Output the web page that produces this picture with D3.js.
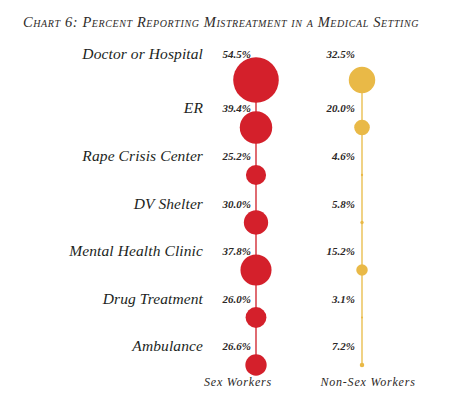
<!DOCTYPE html>
<html>
<head>
<meta charset="utf-8">
<script src="https://cdn.jsdelivr.net/npm/d3@7"></script>
<style>
  html, body { margin: 0; padding: 0; background: #fff; }
  svg { display: block; }
</style>
</head>
<body>
<div id="chart"></div>
<script>
// data
var settings = ['Doctor or Hospital', 'ER', 'Rape Crisis Center', 'DV Shelter',
                'Mental Health Clinic', 'Drug Treatment', 'Ambulance'];
var groups = ['Sex Workers', 'Non-Sex Workers'];
var sexWorkers = [54.5, 39.4, 25.2, 30.0, 37.8, 26.0, 26.6];
var nonSexWorkers = [32.5, 20.0, 4.6, 5.8, 15.2, 3.1, 7.2];
var colors = ['#d4202b', '#e9b947'];
var lineColors = ['#d8474f', '#edc766'];

var W = 474, H = 415;
var svg = d3.select('#chart').append('svg')
  .attr('width', W).attr('height', H);

var serif = '"Liberation Serif", "DejaVu Serif", serif';

// title, small caps italic
svg.append('text')
  .attr('x', 23).attr('y', 27)
  .attr('font-family', serif)
  .attr('font-style', 'italic')
  .attr('font-size', '14.5px')
  .attr('font-variant', 'small-caps')
  .attr('letter-spacing', '0.6px')
  .attr('fill', '#2e2a28')
  .text('Chart 6: Percent Reporting Mistreatment in a Medical Setting');

var x = d3.scalePoint().domain(groups).range([256, 362]);
var y = d3.scalePoint().domain(settings).range([80, 365]);
var r = d3.scaleLinear().domain([2, 55]).range([0, 23]).clamp(true);

var series = [sexWorkers, nonSexWorkers];

// connecting lines
series.forEach(function(vals, s) {
  svg.append('line')
    .attr('x1', x(groups[s])).attr('x2', x(groups[s]))
    .attr('y1', y(settings[0])).attr('y2', y(settings[settings.length - 1]))
    .attr('stroke', lineColors[s])
    .attr('stroke-width', 1.6);
});

// label baseline sits above the red circle
function labelY(i) {
  return y(settings[i]) - Math.max(14, r(sexWorkers[i]) - 2);
}

// category labels
svg.selectAll('.cat')
  .data(settings)
  .enter().append('text')
  .attr('class', 'cat')
  .attr('x', 203)
  .attr('y', function(d, i) { return labelY(i); })
  .attr('text-anchor', 'end')
  .attr('font-family', serif)
  .attr('font-style', 'italic')
  .attr('font-size', '15.5px')
  .attr('letter-spacing', '0.1px')
  .attr('fill', '#221f1d')
  .text(function(d) { return d; });

// circles and value labels
series.forEach(function(vals, s) {
  var g = svg.append('g');
  g.selectAll('circle')
    .data(vals)
    .enter().append('circle')
    .attr('cx', x(groups[s]))
    .attr('cy', function(d, i) { return y(settings[i]); })
    .attr('r', function(d) { return Math.max(1, r(d)); })
    .attr('fill', colors[s]);

  g.selectAll('text')
    .data(vals)
    .enter().append('text')
    .attr('x', x(groups[s]) - (s === 0 ? 5 : 7))
    .attr('y', function(d, i) { return labelY(i) - 1; })
    .attr('text-anchor', 'end')
    .attr('font-family', serif)
    .attr('font-style', 'italic')
    .attr('font-weight', 'bold')
    .attr('font-size', '11px')
    .attr('fill', '#2b2826')
    .text(function(d) { return d.toFixed(1) + '%'; });
});

// column labels
var groupDx = [-18, 6];
svg.selectAll('.grp')
  .data(groups)
  .enter().append('text')
  .attr('class', 'grp')
  .attr('x', function(d, i) { return x(d) + groupDx[i]; })
  .attr('y', 386)
  .attr('text-anchor', 'middle')
  .attr('font-family', serif)
  .attr('font-style', 'italic')
  .attr('font-size', '12px')
  .attr('letter-spacing', '0.8px')
  .attr('fill', '#2b2826')
  .text(function(d) { return d; });
</script>
</body>
</html>
